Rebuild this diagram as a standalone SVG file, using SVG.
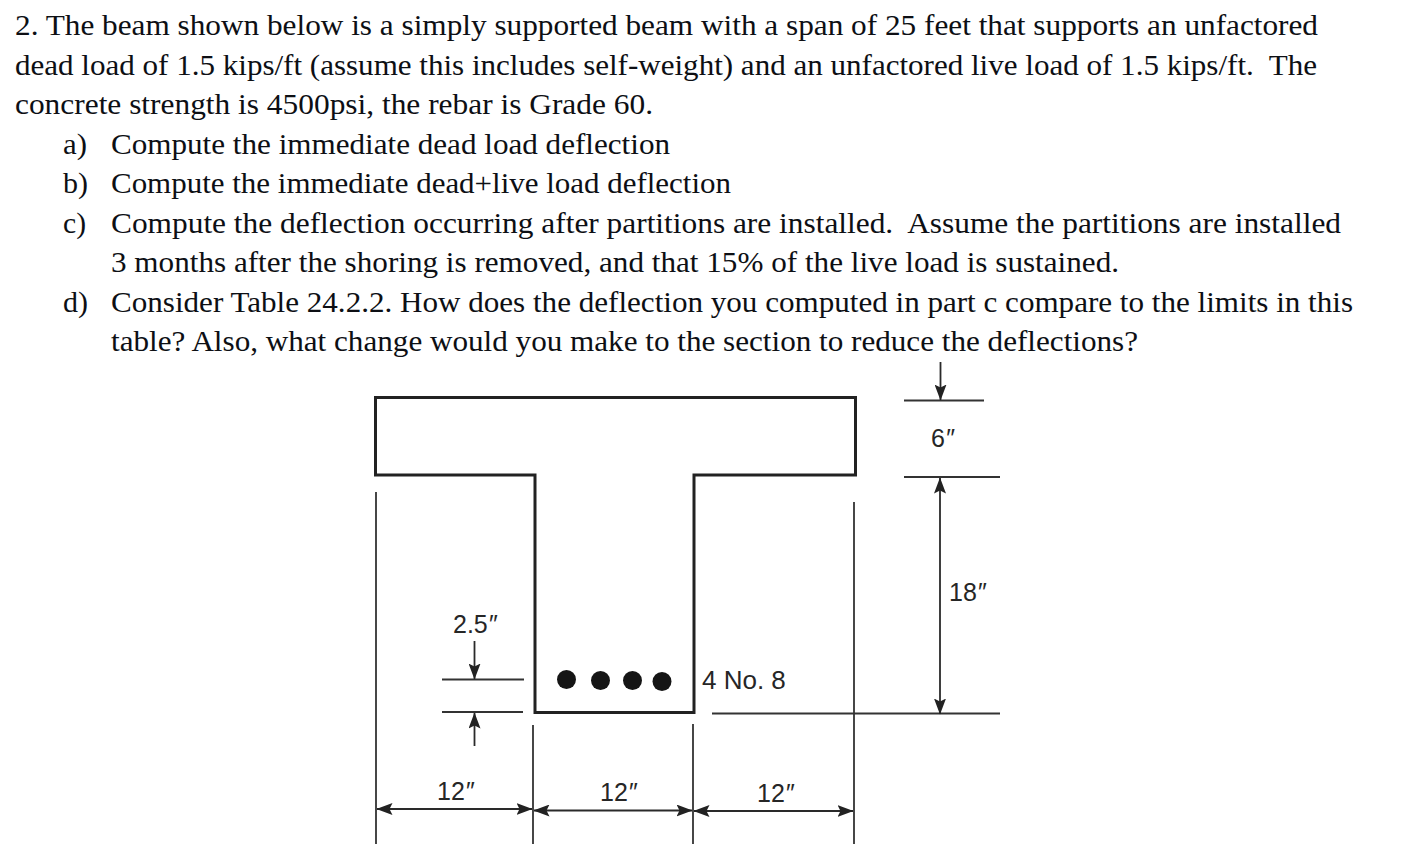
<svg xmlns="http://www.w3.org/2000/svg" width="1404" height="852" viewBox="0 0 1404 852">
<style>
.t{font-family:"Liberation Serif","Times New Roman",serif;font-size:30px;fill:#0d0f14;white-space:pre}
.d{font-family:"Liberation Sans",Arial,sans-serif;font-size:25px;fill:#262626}
.n{font-size:26px}
.i{font-style:italic}
.o{fill:none;stroke:#222;stroke-width:3}
.l{fill:none;stroke:#333;stroke-width:1.8}
.a{fill:none;stroke:#2a2a2a;stroke-width:1.8}
.h{fill:#222;stroke:none}
</style>
<defs>
<marker id="ah" viewBox="0 0 16 12" refX="15.500" refY="6" markerWidth="16" markerHeight="12" markerUnits="userSpaceOnUse" orient="auto-start-reverse"><path class="h" d="M0 0L16 6L0 12L3 6Z"/></marker>
</defs>
<rect width="1404" height="852" fill="#fff"/>
<g id="question">
<text class="t" x="15" y="35" textLength="1303" lengthAdjust="spacingAndGlyphs">2. The beam shown below is a simply supported beam with a span of 25 feet that supports an unfactored</text>
<text class="t" x="15" y="75" textLength="1302" lengthAdjust="spacingAndGlyphs">dead load of 1.5 kips/ft (assume this includes self-weight) and an unfactored live load of 1.5 kips/ft.  The</text>
<text class="t" x="15" y="114" textLength="638" lengthAdjust="spacingAndGlyphs">concrete strength is 4500psi, the rebar is Grade 60.</text>
<text class="t" x="63" y="154" textLength="24" lengthAdjust="spacingAndGlyphs">a)</text>
<text class="t" x="111" y="154" textLength="559" lengthAdjust="spacingAndGlyphs">Compute the immediate dead load deflection</text>
<text class="t" x="63" y="193" textLength="25" lengthAdjust="spacingAndGlyphs">b)</text>
<text class="t" x="111" y="193" textLength="620" lengthAdjust="spacingAndGlyphs">Compute the immediate dead+live load deflection</text>
<text class="t" x="63" y="233" textLength="23" lengthAdjust="spacingAndGlyphs">c)</text>
<text class="t" x="111" y="233" textLength="1230" lengthAdjust="spacingAndGlyphs">Compute the deflection occurring after partitions are installed.  Assume the partitions are installed</text>
<text class="t" x="111" y="272" textLength="1008" lengthAdjust="spacingAndGlyphs">3 months after the shoring is removed, and that 15% of the live load is sustained.</text>
<text class="t" x="63" y="312" textLength="25" lengthAdjust="spacingAndGlyphs">d)</text>
<text class="t" x="111" y="312" textLength="1242" lengthAdjust="spacingAndGlyphs">Consider Table 24.2.2. How does the deflection you computed in part c compare to the limits in this</text>
<text class="t" x="111" y="351" textLength="1027" lengthAdjust="spacingAndGlyphs">table? Also, what change would you make to the section to reduce the deflections?</text>
</g>
<g id="t-beam">
<path class="o" d="M375.500 397.500H855.500V475H694V712.500H535V475H375.500Z"/>
</g>
<g id="rebar">
<circle cx="566.500" cy="679.500" r="9.500" fill="#151515"/>
<circle cx="600.500" cy="680.500" r="9.500" fill="#151515"/>
<circle cx="632.500" cy="680.500" r="9.500" fill="#151515"/>
<circle cx="662" cy="681.500" r="9.500" fill="#151515"/>
</g>
<g id="connectors">
<path class="l" d="M376 492V844M854 502V844M533 725V844M693 724V844"/>
<path class="l" d="M442 679.500H524M442 712H523M712 713.500H1000M904 400.500H984M904 477H1000"/>
<path class="a" marker-start="url(#ah)" marker-end="url(#ah)" d="M377 809H532"/>
<path class="a" marker-start="url(#ah)" marker-end="url(#ah)" d="M534 810.500H692"/>
<path class="a" marker-start="url(#ah)" marker-end="url(#ah)" d="M694 811H853"/>
<path class="a" marker-end="url(#ah)" d="M474.500 641V679"/>
<path class="a" marker-end="url(#ah)" d="M474.500 746V713"/>
<path class="a" marker-end="url(#ah)" d="M940.500 362V400"/>
<path class="a" marker-start="url(#ah)" marker-end="url(#ah)" d="M940 478V714"/>
</g>
<g id="labels">
<text class="d" x="453" y="633">2.5<tspan class="i">″</tspan></text>
<text class="d n" x="702" y="689">4 No. 8</text>
<text class="d" x="931" y="447">6<tspan class="i">″</tspan></text>
<text class="d" x="949" y="601">18<tspan class="i">″</tspan></text>
<text class="d" x="437" y="800">12<tspan class="i">″</tspan></text>
<text class="d" x="600" y="801">12<tspan class="i">″</tspan></text>
<text class="d" x="757" y="802">12<tspan class="i">″</tspan></text>
</g>
</svg>
